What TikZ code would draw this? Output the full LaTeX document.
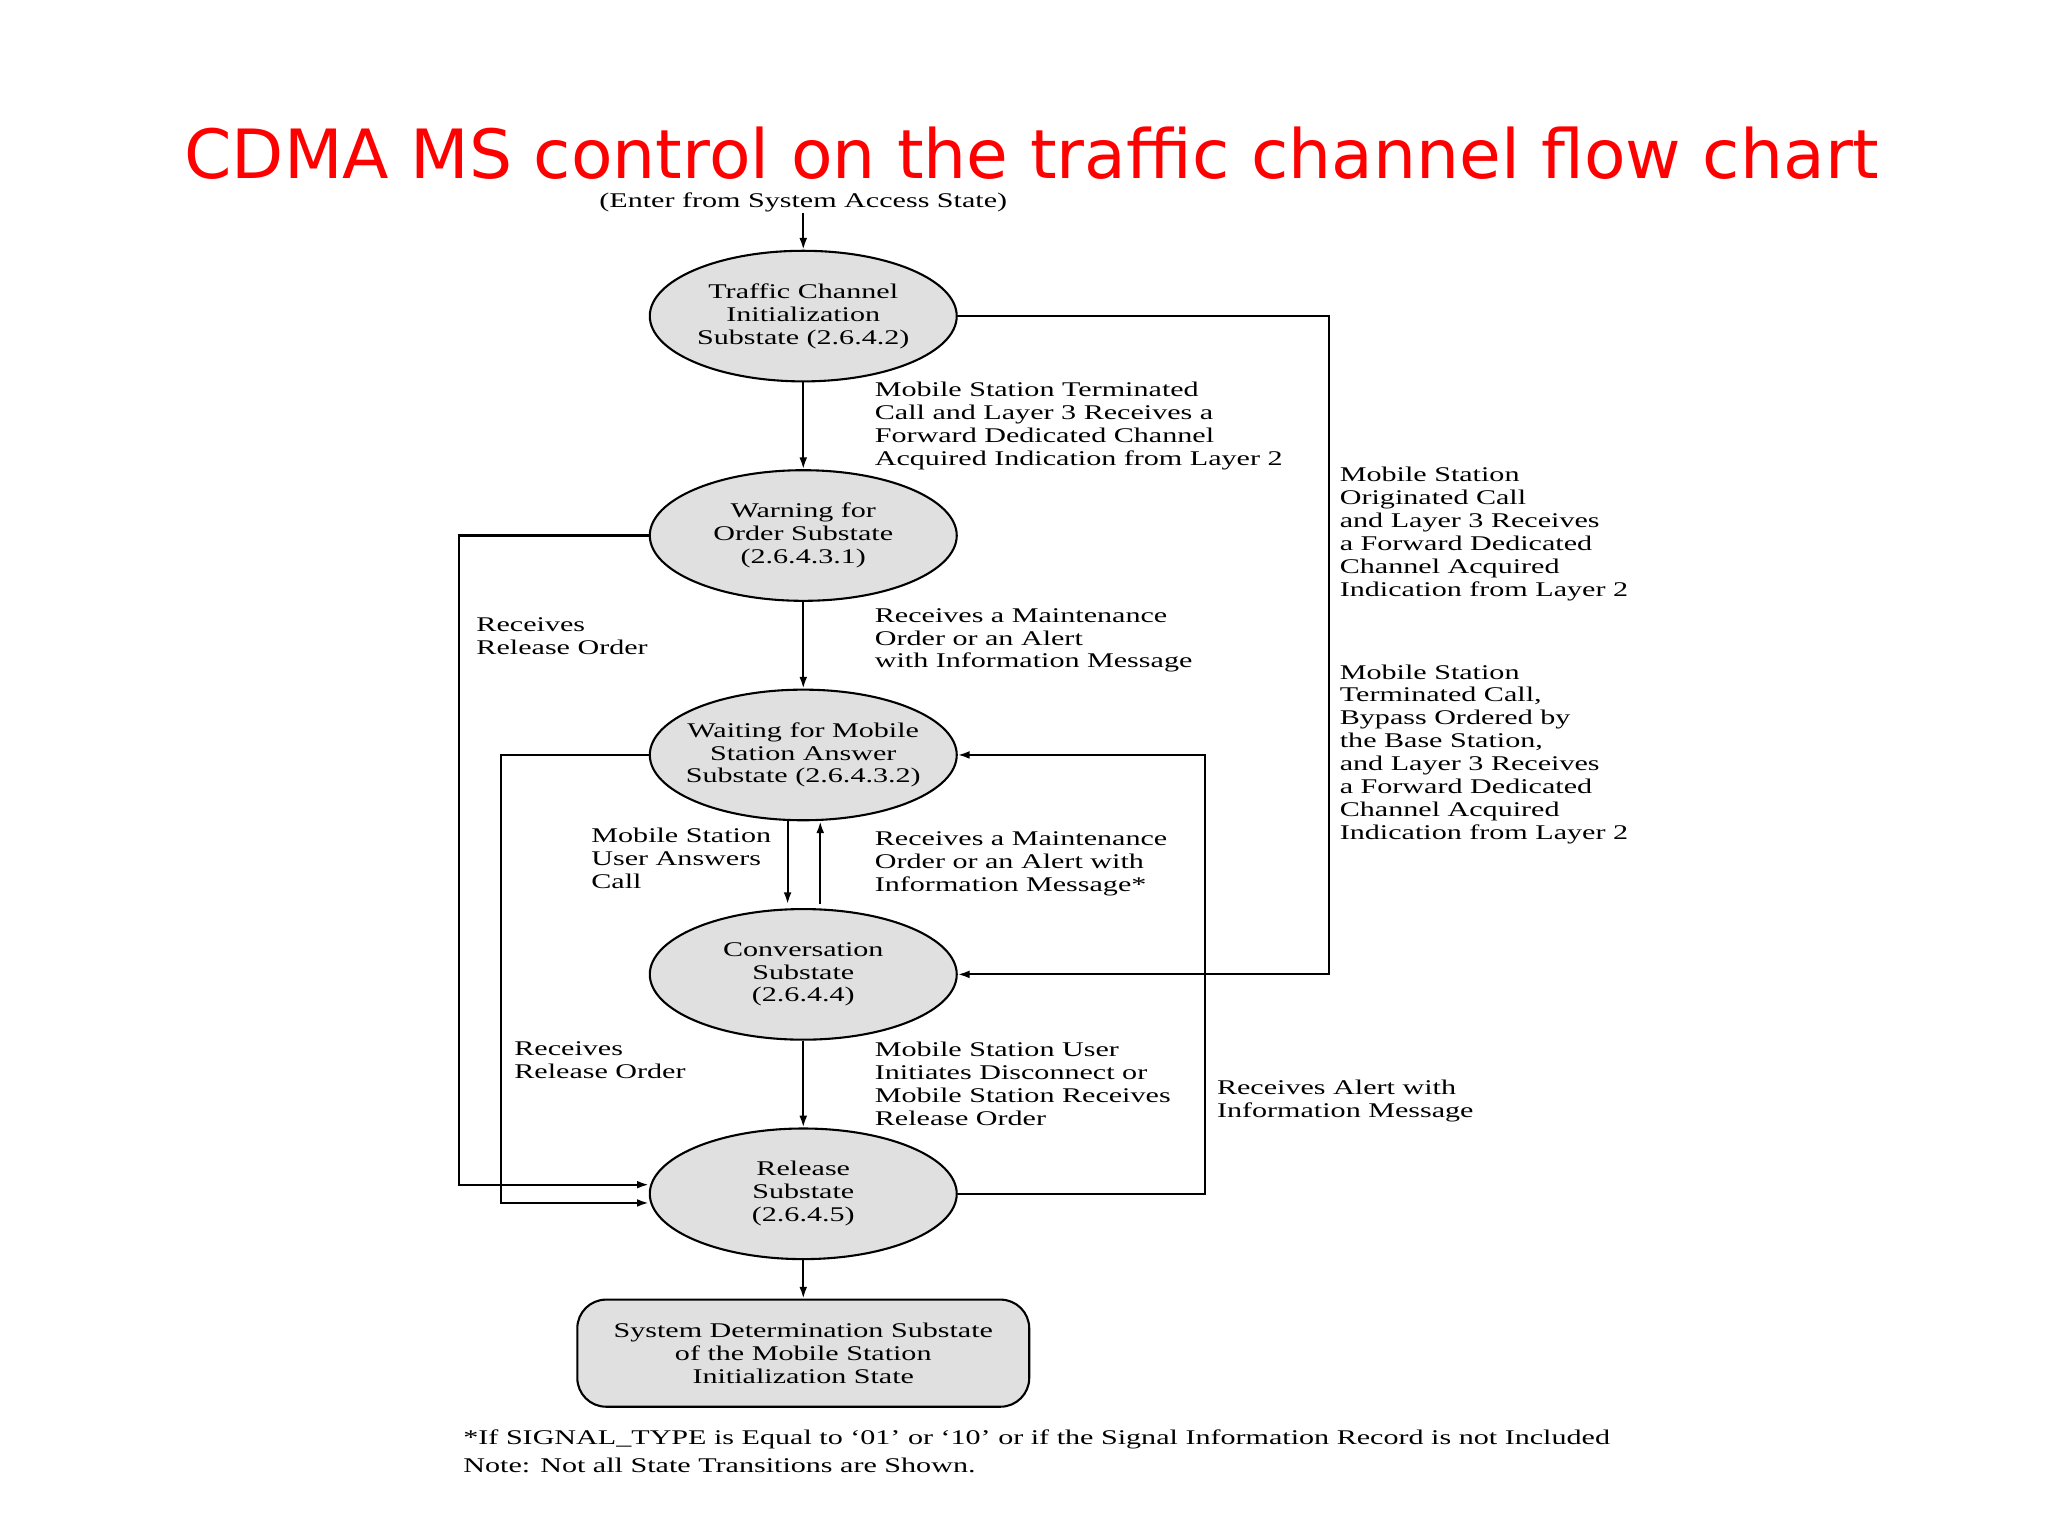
\documentclass[tikz,border=0pt]{standalone}
\usepackage{fontspec}
\setmainfont{Liberation Serif}
\newfontfamily\diagfont{Liberation Serif}[FakeStretch=1.44]
\newfontfamily\titlefont{DejaVu Sans}
\usetikzlibrary{shapes.geometric,arrows.meta}

\tikzset{every picture/.style={line width=1.6pt}}
\tikzset{
  state/.style={draw, ellipse, fill=black!12, minimum width=235, minimum height=100, inner sep=0, align=center, font=\diagfont\fontsize{16}{17.5}\selectfont},
  lbl/.style={anchor=north west, align=left, inner sep=0, font=\diagfont\fontsize{16}{17.5}\selectfont},
  flow/.style={-{Latex[length=9pt,width=6pt]}}
}

\begin{document}
\begin{tikzpicture}[x=1pt,y=1pt,yscale=-1]
  \useasboundingbox (0,0) rectangle (1568,1176);

  \node[red, font=\titlefont\fontsize{52}{58}\selectfont] (title) at (790,117) {CDMA MS control on the traffic channel flow chart};

  % states
  \node[lbl, anchor=center] (enter) at (615,155) {(Enter from System Access State)};
  \node[state] (tci) at (615,242) {Traffic Channel\\Initialization\\Substate (2.6.4.2)};
  \node[state] (wfo) at (615,410) {Warning for\\Order Substate\\(2.6.4.3.1)};
  \node[state, inner xsep=-30pt] (wma) at (615,578) {Waiting for Mobile\\Station Answer\\Substate (2.6.4.3.2)};
  \node[state] (conv) at (615,746) {Conversation\\Substate\\(2.6.4.4)};
  \node[state] (rel) at (615,914) {Release\\Substate\\(2.6.4.5)};
  \node[draw, rounded corners=22, fill=black!12, minimum width=346, minimum height=82, align=center, font=\diagfont\fontsize{16}{17.5}\selectfont] (sysdet) at (615,1036) {System Determination Substate\\of the Mobile Station\\Initialization State};

  % transitions
  \draw[flow] (enter) -- (tci);
  \draw[flow] (tci) -- (wfo);
  \draw[flow] (wfo) -- (wma);
  \draw[flow] ([xshift=-12]wma.south) -- ([xshift=-12,yshift=-3]conv.north);
  \draw[flow] ([xshift=13,yshift=-3]conv.north) -- ([xshift=13]wma.south);
  \draw[flow] (conv) -- (rel);
  \draw[flow] (rel) -- (sysdet);
  \draw[flow] (tci.east) -- ++(284,0) |- (conv.east);
  \draw[flow] (wfo.west) -- ++(-145,0) |- ([yshift=-7]rel.west);
  \draw[flow] (wma.west) -- ++(-113,0) |- ([yshift=7]rel.west);
  \draw[flow] (rel.east) -- ++(189,0) |- (wma.east);

  % labels
  \node[lbl] (l1) at (669,292) {Mobile Station Terminated\\Call and Layer 3 Receives a\\Forward Dedicated Channel\\Acquired Indication from Layer 2};
  \node[lbl] (l2) at (1025,357) {Mobile Station\\Originated Call\\and Layer 3 Receives\\a Forward Dedicated\\Channel Acquired\\Indication from Layer 2};
  \node[lbl] (l3) at (669,465) {Receives a Maintenance\\Order or an Alert\\with Information Message};
  \node[lbl] (l4) at (364,472) {Receives\\Release Order};
  \node[lbl] (l5) at (1025,508) {Mobile Station\\Terminated Call,\\Bypass Ordered by\\the Base Station,\\and Layer 3 Receives\\a Forward Dedicated\\Channel Acquired\\Indication from Layer 2};
  \node[lbl] (l6) at (452,633) {Mobile Station\\User Answers\\Call};
  \node[lbl] (l7) at (669,636) {Receives a Maintenance\\Order or an Alert with\\Information Message*};
  \node[lbl] (l8) at (393,797) {Receives\\Release Order};
  \node[lbl] (l9) at (669,797) {Mobile Station User\\Initiates Disconnect or\\Mobile Station Receives\\Release Order};
  \node[lbl] (l10) at (931,826) {Receives Alert with\\Information Message};
  \node[lbl] (foot) at (354,1094) {*If SIGNAL\_TYPE is Equal to ‘01’ or ‘10’ or if the Signal Information Record is not Included\\[4pt]Note: Not all State Transitions are Shown.};
\end{tikzpicture}
\end{document}
